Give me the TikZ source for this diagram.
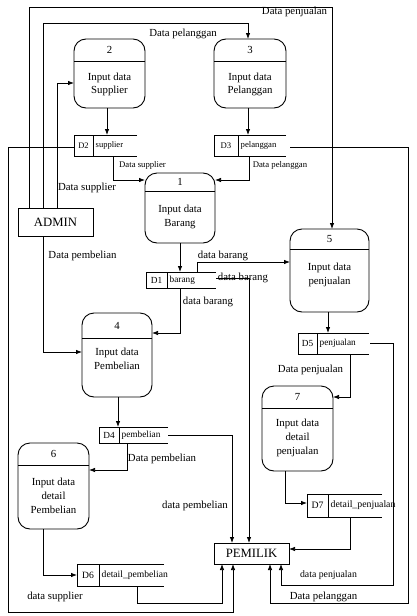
\documentclass[tikz,border=0pt]{standalone}
\usepackage{fontspec}
\setmainfont{Liberation Serif}
\usetikzlibrary{arrows.meta}
\tikzset{
  base/.style={line width=0.75pt},
  proc/.style={draw, rounded corners=12pt, line width=0.9pt, inner sep=0pt, outer sep=0pt},
  store/.style={inner sep=0pt, outer sep=0pt},
  ent/.style={draw, line width=0.8pt, inner sep=0pt, outer sep=0pt, font=\fontsize{12.7}{14}\selectfont},
  txt/.style={inner sep=0pt, font=\fontsize{10.8}{13.8}\selectfont},
  lbl/.style={inner sep=0pt, font=\fontsize{10.8}{13}\selectfont},
  slbl/.style={inner sep=0pt, font=\fontsize{8.7}{10}\selectfont},
  stxt/.style={inner sep=0pt},
  arr/.style={base, -{Latex[length=6pt,width=4.5pt]}}
}
\newcommand{\dfdproc}[9]{%
  \node[proc, minimum width=#4pt, minimum height=#5pt] (#1) at (#2,#3) {};
  \draw[base] ([yshift=-#6pt]#1.north west) -- ([yshift=-#6pt]#1.north east);
  \path (#1.north) -- ([yshift=-#6pt]#1.north) node[midway, txt] (#1n) {#8};
  \node[txt, align=center] (#1t) at (#2,#7) {#9};
}
\newcommand{\dfdstore}[9]{%
  \node[store, minimum width=#4pt, minimum height=#5pt] (#1) at (#2,#3) {};
  \draw[base] (#1.north east) -- (#1.north west) -- (#1.south west) -- (#1.south east);
  \draw[base] ([xshift=#6pt]#1.north west) -- ([xshift=#6pt]#1.south west);
  \path (#1.west) -- ([xshift=#6pt]#1.west) node[midway, stxt] (#1i) {\fontsize{#9}{#9}\selectfont #7};
  \node[stxt, anchor=west] (#1l) at ([xshift=#6pt+2.5pt]#1.west) {\fontsize{#9}{#9}\selectfont #8};
}
\begin{document}
\begin{tikzpicture}[x=1pt,y=-1pt]
\useasboundingbox (0,0) rectangle (416,616);

% external entities
\node[ent, minimum width=75pt, minimum height=28pt] (admin) at (55.5,222) {ADMIN};
\node[ent, minimum width=75pt, minimum height=21pt] (pemilik) at (251.5,553.5) {PEMILIK};

% processes
\dfdproc{p1}{180}{208}{70}{70}{18}{217}{1}{Input data\\Barang}
\dfdproc{p2}{109.5}{73.5}{71}{69}{22}{84.5}{2}{Input data\\Supplier}
\dfdproc{p3}{250}{73.5}{72}{69}{22}{84.5}{3}{Input data\\Pelanggan}
\dfdproc{p4}{117}{355}{70}{84}{25}{358.5}{4}{Input data\\Pembelian}
\dfdproc{p5}{329.5}{270.5}{79}{83}{20}{274.5}{5}{Input data\\penjualan}
\dfdproc{p6}{53.5}{486}{71}{86}{22}{496}{6}{Input data\\detail\\Pembelian}
\dfdproc{p7}{297.5}{428.5}{71}{85}{22}{438}{7}{Input data\\detail\\penjualan}

% data stores
\dfdstore{d1}{181}{280}{70}{16}{21}{D1}{barang}{9.3}
\dfdstore{d2}{105.5}{145.5}{63}{21}{19}{D2}{supplier}{8.5}
\dfdstore{d3}{250}{145.5}{72}{21}{24}{D3}{pelanggan}{8.7}
\dfdstore{d4}{133.5}{435}{69}{16}{20}{D4}{pembelian}{9.3}
\dfdstore{d5}{333.5}{343.5}{71}{21}{19}{D5}{penjualan}{9.3}
\dfdstore{d6}{120.5}{575}{87}{22}{22}{D6}{detail\_pembelian}{9.6}
\dfdstore{d7}{344.5}{505.5}{75}{23}{21}{D7}{detail\_penjualan}{9.8}

% connectors
\draw[arr] ([xshift=-26pt]admin.north) |- (332,7) -- ([xshift=2.5pt]p5.north);
\draw[arr] ([xshift=-12.5pt]admin.north) |- (248,23) -- ([xshift=-2pt]p3.north);
\draw[arr] ([xshift=1.5pt]admin.north) |- ([yshift=-9.5pt]p2.west);
\draw[arr] ([xshift=-12.5pt]admin.south) |- ([yshift=3pt]p4.west);
\draw[arr] ([xshift=-2.5pt]p2.south) -- ([xshift=1.5pt]d2.north);
\draw[arr] ([xshift=-2pt]p3.south) -- ([xshift=-2pt]d3.north);
\draw[arr] ([xshift=39pt]d2.south west) |- ([yshift=28pt]p1.west);
\draw[arr] ([xshift=-1pt]d3.south) |- ([yshift=28pt]p1.east);
\draw[arr] (p1.south) -- ([xshift=-1pt]d1.north);
\draw[arr] ([xshift=51pt]d1.north west) |- ([yshift=8.5pt]p5.west);
\draw[arr] ([yshift=2pt]d1.east) -| ([xshift=-2.5pt]pemilik.north);
\draw[arr] ([xshift=-1pt]d1.south) |- ([yshift=22pt]p4.east);
\draw[arr] ([xshift=1pt]p4.south) -- ([xshift=19pt]d4.north west);
\draw[arr] (d4.east) -| ([xshift=-19.5pt]pemilik.north);
\draw[arr] ([xshift=28pt]d4.south west) |- ([yshift=16pt]p6.east);
\draw[arr] ([xshift=-10.5pt]p6.south) |- (d6.west);
\draw[arr] ([xshift=60pt]d6.south west) |- (222,603) -- ([xshift=-29.5pt]pemilik.south);
\draw[arr] ([yshift=-1.5pt]d2.west) -| (8,612) -| ([xshift=-18.5pt]pemilik.south);
\draw[arr] ([xshift=4pt,yshift=-1.5pt]d3.east) -| (408,603) -| ([xshift=18.5pt]pemilik.south);
\draw[arr] ([xshift=-1.5pt]p5.south) -- ([xshift=30pt]d5.north west);
\draw[arr] ([xshift=52pt]d5.south west) |- ([yshift=31.5pt]p7.east);
\draw[arr] ([xshift=1pt]d5.east) -| (393,585) -| ([xshift=29.5pt]pemilik.south);
\draw[arr] ([xshift=-12.5pt]p7.south) |- ([yshift=2.5pt]d7.west);
\draw[arr] ([xshift=43pt]d7.south west) |- ([yshift=4.5pt]pemilik.east);

% labels
\node[lbl] (l1) at (294.5,12) {Data penjualan};
\node[lbl] (l2) at (183,34) {Data pelanggan};
\node[lbl] (l3) at (87,188) {Data supplier};
\node[lbl] (l4) at (82.5,256) {Data pembelian};
\node[slbl] (l5) at (142.5,165) {Data supplier};
\node[slbl] (l6) at (280,165) {Data pelanggan};
\node[lbl] (l7) at (223,256) {data barang};
\node[lbl] (l8) at (243,278) {data barang};
\node[lbl] (l9) at (208,302) {data barang};
\node[lbl] (l10) at (195,506) {data pembelian};
\node[lbl] (l11) at (162,459) {Data pembelian};
\node[lbl] (l12) at (55,597) {data supplier};
\node[lbl] (l13) at (323.5,597) {Data pelanggan};
\node[lbl] (l14) at (310.5,370) {Data penjualan};
\node[inner sep=0pt, font=\fontsize{9.8}{11}\selectfont] (l15) at (328.5,575) {data penjualan};
\end{tikzpicture}
\end{document}
